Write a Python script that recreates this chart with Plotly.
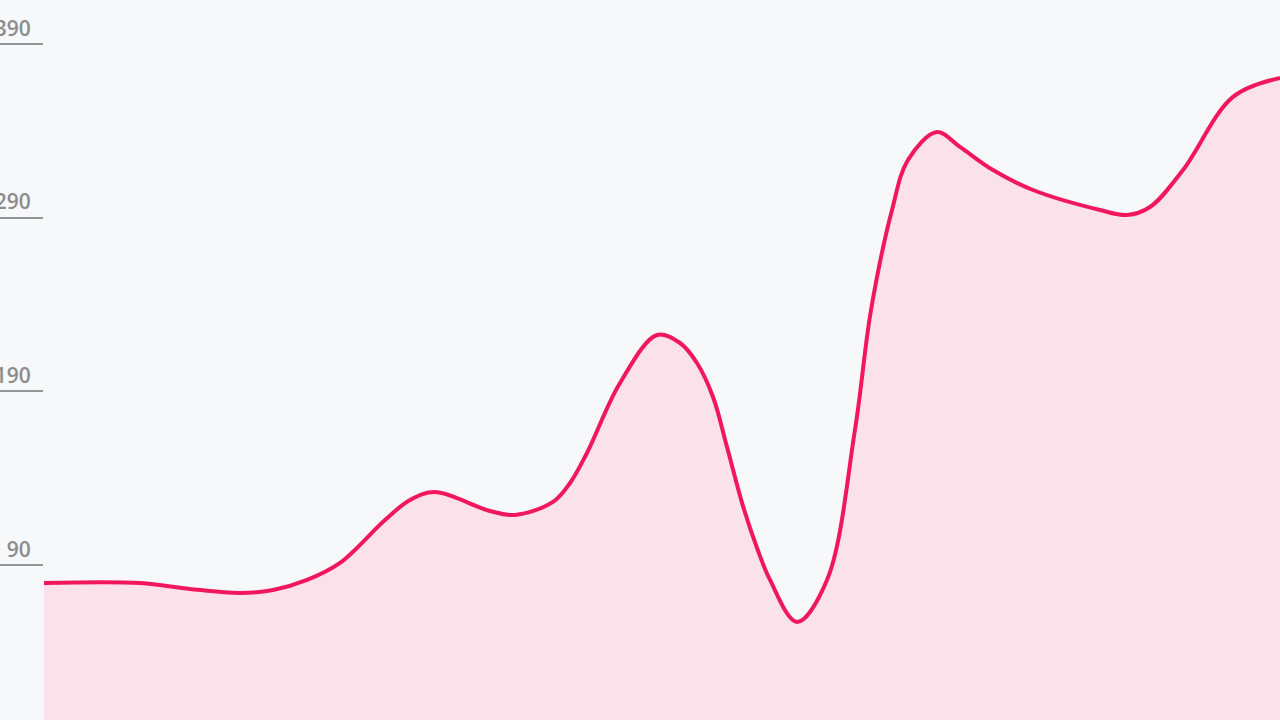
import plotly.graph_objects as go

x_vals = [0.00, 7.77, 11.81, 15.86, 18.53, 21.28, 23.95, 27.59, 29.61,
          31.63, 36.08, 38.11, 41.18, 42.56, 43.93, 46.60,
          49.60, 51.46, 52.83, 54.13, 55.26, 56.55, 57.69, 58.74, 60.92,
          63.35, 65.61, 66.91, 68.61, 69.90, 72.25, 74.11,
          76.78, 80.02, 85.44, 87.62, 89.48, 92.15, 96.20, 100.0]
y_vals = [79.6, 79.6, 76.2, 73.9, 75.6, 81.4, 91.2, 115.9, 127.4,
          132.0, 121.1, 118.8, 126.3, 137.2, 154.5, 194.8,
          222.4, 217.8, 206.3, 186.7, 157.9, 124.0, 99.8, 81.4, 57.2,
          81.4, 167.7, 236.8, 294.4, 323.2, 339.3, 330.7,
          317.4, 305.9, 294.4, 291.5, 296.1, 317.4, 359.5, 370.4]
tick_vals = [90, 190, 290, 390]
tick_text = ["90", "190", "290", "390"]

fig = go.Figure()
fig.add_trace(go.Scatter(
    x=x_vals, y=y_vals, mode="lines",
    line=dict(color="#f0175c", width=4, shape="spline", smoothing=1.0),
    fill="tozeroy", fillcolor="rgba(252,222,231,0.9)",
    hoverinfo="skip",
))
fig.update_layout(
    width=1280, height=720,
    margin=dict(l=44, r=0, t=0, b=0, autoexpand=False),
    paper_bgcolor="#f6f8f9", plot_bgcolor="#f6f8f9",
    showlegend=False,
    xaxis=dict(range=[0, 100], showgrid=False, zeroline=False, automargin=False,
               showticklabels=False, showline=False, fixedrange=True),
    yaxis=dict(range=[0.75, 415.3], showgrid=False, zeroline=False, showline=False,
               automargin=False, fixedrange=True,
               tickvals=tick_vals, ticktext=tick_text,
               ticks="outside", ticklen=44, tickwidth=2, tickcolor="#959595",
               ticklabelposition="outside top", ticklabelstandoff=8,
               tickfont=dict(family="Open Sans", size=21, color="#8c8c8c", weight=600)),
)
fig.write_html("out.html", config={"displayModeBar": False},
               post_script="document.body.style.margin='0';document.body.style.padding='0';"
                           "document.body.style.background='#f6f8f9';")
